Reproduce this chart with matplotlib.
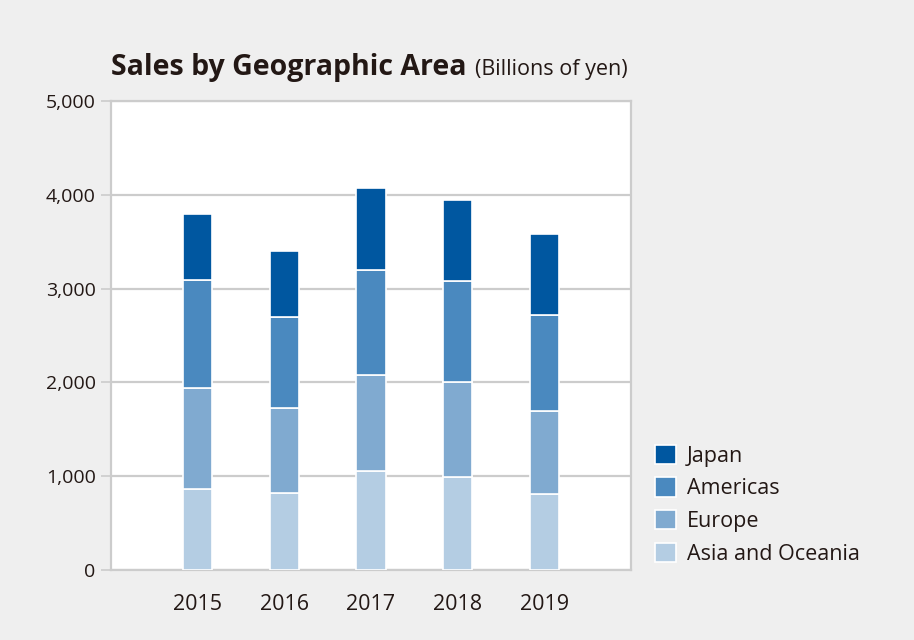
import matplotlib
matplotlib.use("Agg")
import matplotlib.pyplot as plt
import numpy as np
from matplotlib.patches import Patch

years = ["2015", "2016", "2017", "2018", "2019"]
asia_oceania = [861, 818, 1056, 989, 808]
europe = [1078, 911, 1028, 1014, 882]
americas = [1149, 968, 1112, 1081, 1031]
japan = [708, 700, 879, 865, 865]

series_names = ["Asia and Oceania", "Europe", "Americas", "Japan"]
series_values = [asia_oceania, europe, americas, japan]
colors = ["#b4cde3", "#80aad0", "#4a89bf", "#0057a0"]

yticks = [0, 1000, 2000, 3000, 4000, 5000]
ytick_labels = ["0", "1,000", "2,000", "3,000", "4,000", "5,000"]

plt.rcParams['font.family'] = ['Open Sans', 'DejaVu Sans']
text_color = "#231815"
grid_color = "#cccccc"
bg = "#efefef"

fig = plt.figure(figsize=(9.14, 6.4), dpi=100, facecolor=bg)
ax = fig.add_axes([111/914, 1-570/640, 520/914, 469/640])
ax.set_facecolor("white")

x = np.arange(len(years))
bottom = np.zeros(len(years))
for name, vals, c in zip(series_names, series_values, colors):
    ax.bar(x, vals, width=0.34, bottom=bottom, color=c, edgecolor="white",
           linewidth=1.2, zorder=3, label=name)
    bottom += np.array(vals)

ax.set_xlim(-1, 5)
ax.set_ylim(0, 5000)
ax.set_yticks(yticks)
ax.set_yticklabels(ytick_labels)
ax.set_xticks(x)
ax.set_xticklabels(years)
ax.yaxis.grid(True, color=grid_color, linewidth=1.6, zorder=0)
ax.set_axisbelow(True)
for s in ax.spines.values():
    s.set_color(grid_color)
    s.set_linewidth(1.6)
ax.tick_params(axis='y', length=7, width=1.2, color=grid_color, labelsize=14,
               labelcolor=text_color, pad=4)
ax.tick_params(axis='x', length=0, labelsize=15.5, labelcolor=text_color, pad=17)

handles = [Patch(facecolor=c, edgecolor="white", linewidth=1.2) for c in colors[::-1]]
leg = fig.legend(handles, series_names[::-1], loc="upper left",
                 bbox_to_anchor=(646/914, 1-436/640), frameon=False,
                 fontsize=15.5, labelcolor=text_color, handlelength=1.0,
                 handleheight=1.0, handletextpad=0.5, labelspacing=0.5,
                 borderaxespad=0)

t1 = fig.text(111/914, 1-75/640, "Sales by Geographic Area", fontsize=20.5,
              fontweight="bold", color=text_color, va="baseline", ha="left")
fig.canvas.draw()
bb = t1.get_window_extent()
fig.text((bb.x1 + 8)/fig.bbox.width, 1-75/640, "(Billions of yen)", fontsize=15.5,
         color=text_color, va="baseline", ha="left")

fig.savefig("out.png", dpi=100, facecolor=bg)
